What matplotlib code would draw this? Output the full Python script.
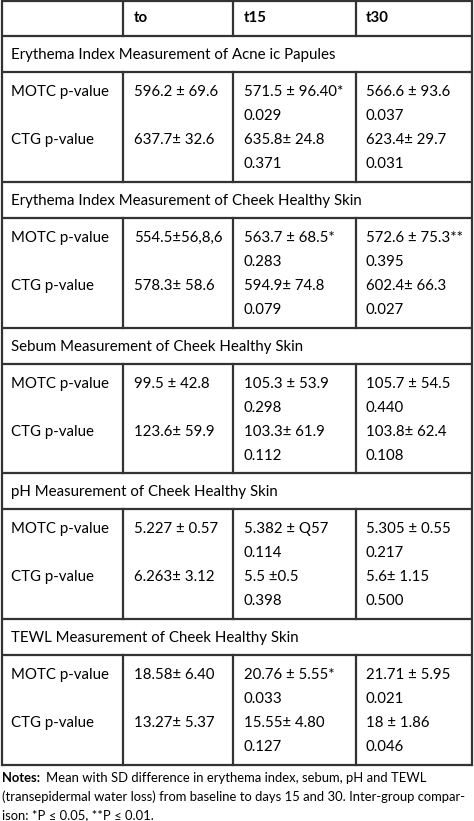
import matplotlib
matplotlib.use("Agg")
import matplotlib.pyplot as plt

headers = ["", "to", "t15", "t30"]
sections = [
    "Erythema Index Measurement of Acne ic Papules",
    "Erythema Index Measurement of Cheek Healthy Skin",
    "Sebum Measurement of Cheek Healthy Skin",
    "pH Measurement of Cheek Healthy Skin",
    "TEWL Measurement of Cheek Healthy Skin",
]
row_labels = ["MOTC p-value", "CTG p-value"]
motc = [
    ["596.2 ± 69.6", "571.5 ± 96.40*", "566.6 ± 93.6"],
    ["554.5±56,8,6", "563.7 ± 68.5*", "572.6 ± 75.3**"],
    ["99.5 ± 42.8", "105.3 ± 53.9", "105.7 ± 54.5"],
    ["5.227 ± 0.57", "5.382 ± Q57", "5.305 ± 0.55"],
    ["18.58± 6.40", "20.76 ± 5.55*", "21.71 ± 5.95"],
]
motc_p = [["0.029", "0.037"], ["0.283", "0.395"], ["0.298", "0.440"],
          ["0.114", "0.217"], ["0.033", "0.021"]]
ctg = [
    ["637.7± 32.6", "635.8± 24.8", "623.4± 29.7"],
    ["578.3± 58.6", "594.9± 74.8", "602.4± 66.3"],
    ["123.6± 59.9", "103.3± 61.9", "103.8± 62.4"],
    ["6.263± 3.12", "5.5 ±0.5", "5.6± 1.15"],
    ["13.27± 5.37", "15.55± 4.80", "18 ± 1.86"],
]
ctg_p = [["0.371", "0.031"], ["0.079", "0.027"], ["0.112", "0.108"],
         ["0.398", "0.500"], ["0.127", "0.046"]]
notes_lines = [
    "Mean with SD difference in erythema index, sebum, pH and TEWL",
    "(transepidermal water loss) from baseline to days 15 and 30. Inter-group compar-",
    "ison: *P ≤ 0.05, **P ≤ 0.01.",
]

W, H = 474, 821
fig = plt.figure(figsize=(W / 100, H / 100), dpi=100)
ax = fig.add_axes([0, 0, 1, 1])
ax.set_xlim(0, W)
ax.set_ylim(H, 0)
ax.axis("off")

FONT = "Lato"
FS = 10.8
lc = "#333333"
lw = 1.6
colx = [123, 233, 356]
textx = [11, 134, 244, 366]
top, bottom = 1, 765
left, right = 2, 472

def hline(y):
    ax.plot([left, right], [y, y], color=lc, lw=lw, solid_capstyle="butt")

hline(top)
hdr_h = 36
for j, h in enumerate(headers):
    ax.text(textx[j], 18, h, fontsize=FS, fontweight="bold", family=FONT, va="center")
for x in colx:
    ax.plot([x, x], [top, hdr_h], color=lc, lw=lw)
hline(hdr_h)

sec_h = (bottom - hdr_h) / len(sections)
for k, name in enumerate(sections):
    y0 = hdr_h + k * sec_h
    ty = y0 + 36
    ax.text(textx[0], y0 + 19, name, fontsize=FS, family=FONT, va="center")
    hline(ty)
    ys = [ty + 20 + i * 24 for i in range(4)]
    ax.text(textx[0], ys[0], row_labels[0], fontsize=FS, family=FONT, va="center")
    ax.text(textx[0], ys[2], row_labels[1], fontsize=FS, family=FONT, va="center")
    for j in range(3):
        ax.text(textx[j + 1], ys[0], motc[k][j], fontsize=FS, family=FONT, va="center")
        ax.text(textx[j + 1], ys[2], ctg[k][j], fontsize=FS, family=FONT, va="center")
    for j in range(2):
        ax.text(textx[j + 2], ys[1], motc_p[k][j], fontsize=FS, family=FONT, va="center")
        ax.text(textx[j + 2], ys[3], ctg_p[k][j], fontsize=FS, family=FONT, va="center")
    yb = y0 + sec_h
    for x in colx:
        ax.plot([x, x], [ty, yb], color=lc, lw=lw)
    hline(yb)

ax.plot([left, left], [top, bottom], color=lc, lw=lw)
ax.plot([right, right], [top, bottom], color=lc, lw=lw)

NFS = 9.4
ny = 778
ax.text(2, ny, "Notes:", fontsize=NFS, fontweight="bold", family=FONT, va="center")
ax.text(46, ny, notes_lines[0], fontsize=NFS, family=FONT, va="center")
ax.text(2, ny + 19, notes_lines[1], fontsize=NFS, family=FONT, va="center")
ax.text(2, ny + 37, notes_lines[2], fontsize=NFS, family=FONT, va="center")

fig.savefig("out.png", dpi=100)
